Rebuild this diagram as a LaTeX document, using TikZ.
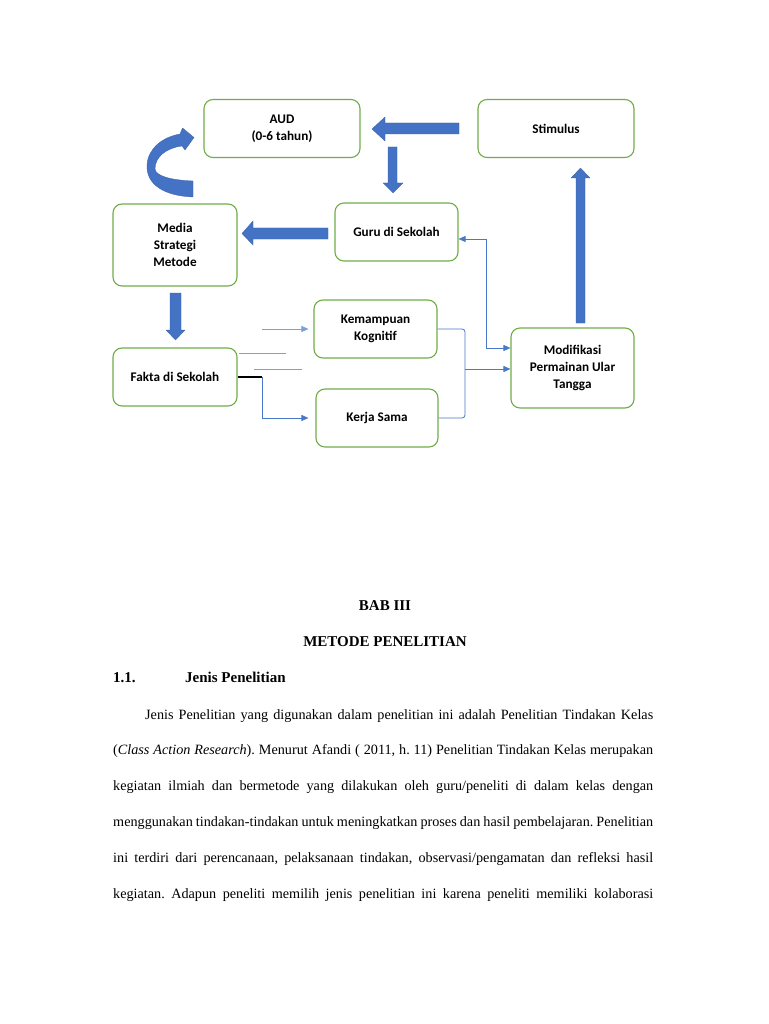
\documentclass[tikz,border=0pt]{standalone}
\usepackage{fontspec}
\setmainfont{Liberation Serif}
\newfontfamily\diagfont{Carlito}
\usetikzlibrary{arrows.meta}
\definecolor{boxgreen}{HTML}{70AD47}
\definecolor{arrowblue}{HTML}{4472C4}
\definecolor{lineblue}{HTML}{4A78C8}
\definecolor{faintblue}{HTML}{7F9FD8}
\begin{document}
\frenchspacing
\begin{tikzpicture}[x=1pt,y=-1pt,
  box/.style={draw=boxgreen, line width=1.1pt, rounded corners=9pt, fill=white, align=center, inner sep=2pt,
    font=\diagfont\bfseries\fontsize{13.2}{16.8}\selectfont},
  blockarrow/.style={fill=arrowblue, draw=arrowblue!85!black, line width=0.3pt},
  conn/.style={draw=lineblue, line width=0.8pt},
  faint/.style={draw=faintblue, line width=0.8pt},
  tipend/.style={-{Triangle[length=7pt,width=6pt]}},
  body/.style={anchor=base west, inner sep=0pt, font=\frenchspacing\fontsize{14.2}{18}\selectfont},
  head/.style={anchor=base, inner sep=0pt, font=\bfseries\fontsize{15}{18}\selectfont}
]
\useasboundingbox[fill=white] (0,0) rectangle (768,1024);

% boxes
\node[box, minimum width=156pt, minimum height=58pt] (aud) at (282,128.5) {AUD\\(0-6 tahun)};
\node[box, minimum width=156pt, minimum height=58pt] (stim) at (556,128.5) {Stimulus};
\node[box, minimum width=123pt, minimum height=58pt] (guru) at (396.5,232) {Guru di Sekolah};
\node[box, minimum width=124pt, minimum height=82pt] (media) at (175,245) {Media\\Strategi\\Metode};
\node[box, minimum width=124pt, minimum height=58pt] (fakta) at (175,377) {Fakta di Sekolah};
\node[box, minimum width=123pt, minimum height=58pt] (kemamp) at (375.5,329) {Kemampuan\\Kognitif};
\node[box, minimum width=122pt, minimum height=58pt] (kerja) at (377,418) {Kerja Sama};
\node[box, minimum width=123pt, minimum height=80pt] (modif) at (572.5,368) {Modifikasi\\Permainan Ular\\Tangga};

% block arrows
% Stimulus -> AUD
\path[blockarrow] (459,123) -- (385,123) -- (385,117) -- (372,129) -- (385,141) -- (385,134) -- (459,134) -- cycle;
% AUD -> Guru
\path[blockarrow] (388,147) -- (388,183) -- (383,183) -- (393,193) -- (403,183) -- (397,183) -- (397,147) -- cycle;
% Guru -> Media
\path[blockarrow] (328,228) -- (253,228) -- (253,221) -- (242,233.5) -- (253,245) -- (253,239) -- (328,239) -- cycle;
% Media -> Fakta
\path[blockarrow] (170,293) -- (170,330) -- (166,330) -- (175.5,340) -- (185,330) -- (181,330) -- (181,293) -- cycle;
% Modifikasi -> Stimulus
\path[blockarrow] (576,323) -- (576,178) -- (571,178) -- (580.5,168) -- (590,178) -- (585,178) -- (585,323) -- cycle;
% curved arrow Media -> AUD
\path[blockarrow] (193,197) .. controls (165,196) and (146,185) .. (147,165)
  .. controls (148,148) and (163,137) .. (180,134) -- (182.5,128) -- (194,137.5) -- (185,150) -- (182,146)
  .. controls (166,148) and (155,157) .. (155,169) .. controls (156,176) and (170,180) .. (193,181) -- cycle;

% thin connectors
\draw[conn, {Triangle[length=7pt,width=6pt]}-{Triangle[length=7pt,width=6pt]}]
  ([yshift=-7pt]guru.east) -| (486,348) -- ([yshift=20pt]modif.west);
\draw[conn, rounded corners=3pt] (kemamp.east) -| (465,418) -- (kerja.east);
\coordinate (mid) at (465,369);
\draw[conn, tipend] (mid) -- ([yshift=-1pt]modif.west);

\coordinate (fk) at (262,377);
\draw[black, line width=1.4pt] (fakta.east) -- (fk);
\draw[conn, tipend, shorten >=7pt] (fk) |- (kerja.west);
\coordinate (ka) at (262,329);
\draw[faint, tipend, shorten >=5pt] (ka) -- (kemamp.west);
\coordinate (f1a) at (239,353);
\coordinate (f1b) at (286,353);
\coordinate (f2a) at (254,369);
\coordinate (f2b) at (302,369);
\draw[faint] (f1a) -- (f1b);
\draw[faint] (f2a) -- (f2b);

% text below
\node[head] (bab) at (385,610) {BAB III};
\node[head] (metode) at (385,646) {METODE PENELITIAN};
\node[head, anchor=base west] (num) at (113,682) {1.1.};
\node[head, anchor=base west] (jenis) at (185,682) {Jenis Penelitian};

\node[body] (l1) at (145,719) {\makebox[508pt][s]{Jenis Penelitian yang digunakan dalam penelitian ini adalah Penelitian Tindakan Kelas}};
\node[body] (l2) at (113,754) {\makebox[540pt][s]{(\textit{Class Action Research}). Menurut Afandi ( 2011, h. 11) Penelitian Tindakan Kelas merupakan}};
\node[body] (l3) at (113,790) {\makebox[540pt][s]{kegiatan ilmiah dan bermetode yang dilakukan oleh guru/peneliti di dalam kelas dengan}};
\node[body] (l4) at (113,826) {\makebox[540pt][s]{menggunakan tindakan-tindakan untuk meningkatkan proses dan hasil pembelajaran. Penelitian}};
\node[body] (l5) at (113,862) {\makebox[540pt][s]{ini terdiri dari perencanaan, pelaksanaan tindakan, observasi/pengamatan dan refleksi hasil}};
\node[body] (l6) at (113,898) {\makebox[540pt][s]{kegiatan. Adapun peneliti memilih jenis penelitian ini karena peneliti memiliki kolaborasi}};
\end{tikzpicture}
\end{document}
